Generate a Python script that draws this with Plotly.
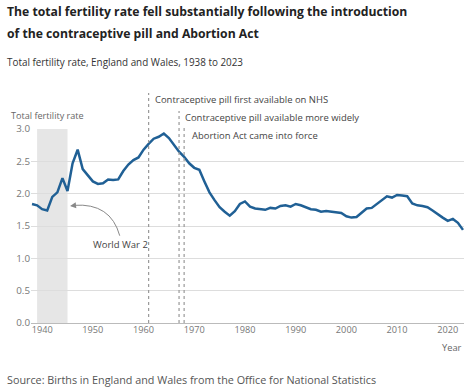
import plotly.graph_objects as go

years = list(range(1938, 2024))
tfr = [1.84, 1.82, 1.76, 1.74, 1.95, 2.02, 2.24, 2.04, 2.47, 2.68,
       2.38, 2.28, 2.19, 2.15, 2.16, 2.22, 2.21, 2.22, 2.35, 2.45,
       2.52, 2.56, 2.68, 2.77, 2.85, 2.88, 2.93, 2.86, 2.75, 2.65,
       2.57, 2.47, 2.40, 2.37, 2.19, 2.02, 1.90, 1.79, 1.72, 1.66,
       1.73, 1.84, 1.88, 1.80, 1.77, 1.76, 1.75, 1.78, 1.77, 1.81,
       1.82, 1.80, 1.84, 1.82, 1.79, 1.76, 1.75, 1.72, 1.73, 1.72,
       1.72, 1.70, 1.65, 1.63, 1.64, 1.71, 1.77, 1.78, 1.84, 1.90,
       1.96, 1.94, 1.98, 1.97, 1.96, 1.85, 1.82, 1.81, 1.79, 1.74,
       1.68, 1.63, 1.58, 1.61, 1.55, 1.44]

event_years = [1961, 1967, 1968]
event_labels = ["Contraceptive pill first available on NHS",
                "Contraceptive pill available more widely",
                "Abortion Act came into force"]
war_start, war_end = 1939, 1945
x_ticks = [1940, 1950, 1960, 1970, 1980, 1990, 2000, 2010, 2020]
y_ticks = [0.0, 0.5, 1.0, 1.5, 2.0, 2.5, 3.0]

W, H = 474, 389
ML, MR, MT, MB = 31, 10, 129, 66
PW, PH = W - ML - MR, H - MT - MB
FONT = "Open Sans"

def px(x):
    return (x - ML) / PW

def py(y):
    return (H - MB - y) / PH

# pixel placement of event labels / line tops (layout only)
event_label_px = [(153, 99), (183, 117), (190, 135)]
event_line_top_px = [93, 111, 128]

fig = go.Figure()
fig.add_trace(go.Scatter(x=years, y=tfr, mode="lines",
                         line=dict(color="#206095", width=2.5),
                         hoverinfo="x+y", showlegend=False))

shapes = []
shapes.append(dict(type="rect", xref="x", yref="y", x0=war_start, x1=war_end,
                   y0=0, y1=3.0, fillcolor="#e6e6e6", line=dict(width=0), layer="below"))
for yr, top in zip(event_years, event_line_top_px):
    shapes.append(dict(type="line", xref="x", yref="paper", x0=yr, x1=yr, y0=0, y1=py(top),
                       line=dict(color="#999999", width=1.2, dash="dot")))
# curved arrow for WW2
shapes.append(dict(type="path", xref="x", yref="y",
                   path="M 1955.3,1.35 Q 1953.5,1.86 1946.3,1.82",
                   line=dict(color="#888888", width=1)))

annotations = []
for lab, (lx, ly) in zip(event_labels, event_label_px):
    annotations.append(dict(x=px(lx), y=py(ly), xref="paper", yref="paper", text=lab,
                            showarrow=False, xanchor="left", yanchor="middle",
                            font=dict(family=FONT, size=9.45, color="#444444")))
annotations.append(dict(x=1945.5, y=1.81, xref="x", yref="y", ax=1946.6, ay=1.82,
                        axref="x", ayref="y", text="", showarrow=True,
                        arrowhead=2, arrowsize=1.2, arrowwidth=1, arrowcolor="#888888"))
annotations.append(dict(x=1955.5, y=1.22, xref="x", yref="y", text="World War 2",
                        showarrow=False, xanchor="center", yanchor="middle",
                        font=dict(family=FONT, size=9.5, color="#444444")))
annotations.append(dict(x=px(5), y=py(12), xref="paper", yref="paper",
                        text="<b>The total fertility rate fell substantially following the introduction</b>",
                        showarrow=False, xanchor="left", yanchor="middle",
                        font=dict(family=FONT, size=12.2, color="#222222")))
annotations.append(dict(x=px(5), y=py(33), xref="paper", yref="paper",
                        text="<b>of the contraceptive pill and Abortion Act</b>",
                        showarrow=False, xanchor="left", yanchor="middle",
                        font=dict(family=FONT, size=12.2, color="#222222")))
annotations.append(dict(x=px(5), y=py(62), xref="paper", yref="paper",
                        text="Total fertility rate, England and Wales, 1938 to 2023",
                        showarrow=False, xanchor="left", yanchor="middle",
                        font=dict(family=FONT, size=9.9, color="#333333")))
annotations.append(dict(x=px(9), y=py(115), xref="paper", yref="paper",
                        text="Total fertility rate",
                        showarrow=False, xanchor="left", yanchor="middle",
                        font=dict(family=FONT, size=9.1, color="#666666")))
annotations.append(dict(x=px(464), y=py(347), xref="paper", yref="paper",
                        text="Year",
                        showarrow=False, xanchor="right", yanchor="middle",
                        font=dict(family=FONT, size=9.3, color="#666666")))
annotations.append(dict(x=px(5), y=py(379), xref="paper", yref="paper",
                        text="Source: Births in England and Wales from the Office for National Statistics",
                        showarrow=False, xanchor="left", yanchor="middle",
                        font=dict(family=FONT, size=10.8, color="#555555")))

fig.update_layout(
    width=W, height=H,
    margin=dict(l=ML, r=MR, t=MT, b=MB),
    paper_bgcolor="white", plot_bgcolor="white",
    shapes=shapes, annotations=annotations,
    font=dict(family=FONT, color="#666666"),
    xaxis=dict(range=[1937.8, 2023.2], tickvals=x_ticks, showgrid=False,
               zeroline=False, showline=False, ticks="",
               tickfont=dict(size=9.2, color="#777777")),
    yaxis=dict(range=[0, 3.0], tickvals=y_ticks, tickformat=".1f",
               showgrid=True, gridcolor="#dddddd", gridwidth=1,
               zeroline=True, zerolinecolor="#bbbbbb", zerolinewidth=1,
               ticks="", ticklen=0,
               tickfont=dict(size=9.8, color="#777777")),
)

fig.write_html("out.html", config={"displayModeBar": False},
               post_script="document.body.style.margin='0';document.body.style.overflow='hidden';")
